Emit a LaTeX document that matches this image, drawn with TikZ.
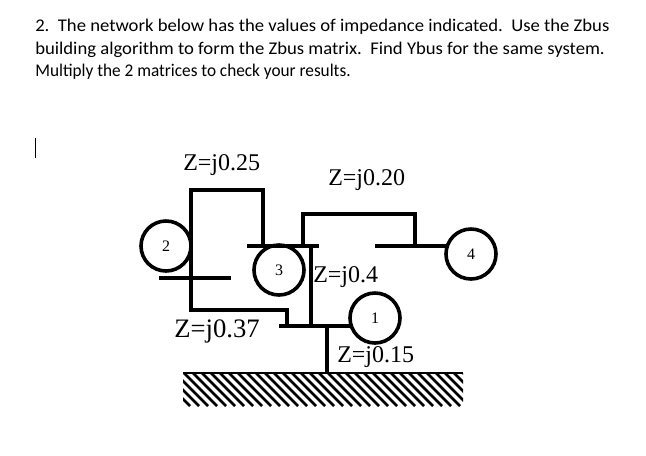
\documentclass[tikz,border=0pt]{standalone}
\usepackage{fontspec}
\setmainfont{Carlito}
\newfontfamily\labelfont{Liberation Serif}
\tikzset{
    bus/.style={circle, draw, line width=2.7pt, minimum size=37.5pt, inner sep=0pt, font=\labelfont\fontsize{12}{12}\selectfont},
    wire/.style={line width=3pt},
    hatchline/.style={line width=1.9pt},
    impedance/.style={anchor=base west, inner sep=0pt, font=\labelfont\fontsize{18}{18}\selectfont},
    textline/.style={anchor=base west, inner sep=0pt, font=\fontsize{13.4}{15}\selectfont},
}

\begin{document}
\begin{tikzpicture}[x=0.75pt, y=-0.75pt]
            \useasboundingbox (0, 0) rectangle (646, 455);

            \node[textline] at (35, 31) (line1) {\scalebox{1.045}[1]{2.~~The network below has the values of impedance indicated.~~Use the Zbus}};
            \node[textline] at (35, 54) (line2) {\scalebox{1.045}[1]{building algorithm to form the Zbus matrix.~~Find Ybus for the same system.}};
            \node[textline] at (35, 76) (line3) {\scalebox{0.965}[1]{Multiply the 2 matrices to check your results.}};
            \draw[line width=0.75pt] (35.5, 138) -- (35.5, 158);

            \node[bus] at (166, 246) (b2) {2};
            \node[bus] at (279, 270) (b3) {3};
            \node[bus] at (471, 254) (b4) {4};
            \node[bus] at (375, 318) (b1) {1};

            \node[impedance] at (183, 170) (z25) {Z=j0.25};
            \node[impedance] at (328, 185) (z20) {Z=j0.20};
            \node[impedance] at (313, 282) (z4) {Z=j0.4};
            \node[impedance] at (337, 362) (z15) {Z=j0.15};
            \node[impedance, font=\labelfont\fontsize{20}{20}\selectfont] at (174, 337) (z37) {Z=j0.37};

            % bars
            \coordinate (l2a) at (159, 278);
            \coordinate (l2b) at (231, 278);
            \coordinate (l3a) at (247, 246);
            \coordinate (l3b) at (319, 246);
            \coordinate (l4a) at (375, 246);
            \coordinate (l1a) at (279, 326);
            \draw[wire] (l2a) -- (l2b);
            \draw[wire] (l3a) -- (l3b);
            \draw[wire] (l4a) -- (l4a -| b4.160);
            \draw[wire] (l1a) -- (l1a -| b1.200);

            % branches
            \coordinate (t25a) at (191, 190);
            \coordinate (t25b) at (263, 190);
            \coordinate (t37a) at (191, 310);
            \coordinate (t37b) at (287, 310);
            \coordinate (t20a) at (303, 214);
            \coordinate (t20b) at (415, 214);
            \coordinate (j3) at (311, 246);
            \coordinate (j1) at (311, 326);
            \coordinate (j0) at (327, 326);
            \draw[wire] (t25b |- l3a) -- (t25b) -- (t25a) -- (t37a) -- (t37b) -- (l1a -| t37b);
            \draw[wire] (t20a |- l3a) -- (t20a) -- (t20b) -- (t20b |- l4a);
            \draw[wire] (j3) -- (j1);

            % ground
            \coordinate (g1) at (183, 373);
            \coordinate (g2) at (463, 406);
            \begin{scope}
                \clip (g1) rectangle (g2);
                \foreach \x in {148, 157, ..., 463} {
                    \draw[hatchline] (\x, 373) -- (\x + 33, 406);
                }
            \end{scope}
            \draw[line width=2pt] (g1) -- (g1 -| g2);
            \draw[wire] (j0) -- (j0 |- g1);
        \end{tikzpicture}
\end{document}
